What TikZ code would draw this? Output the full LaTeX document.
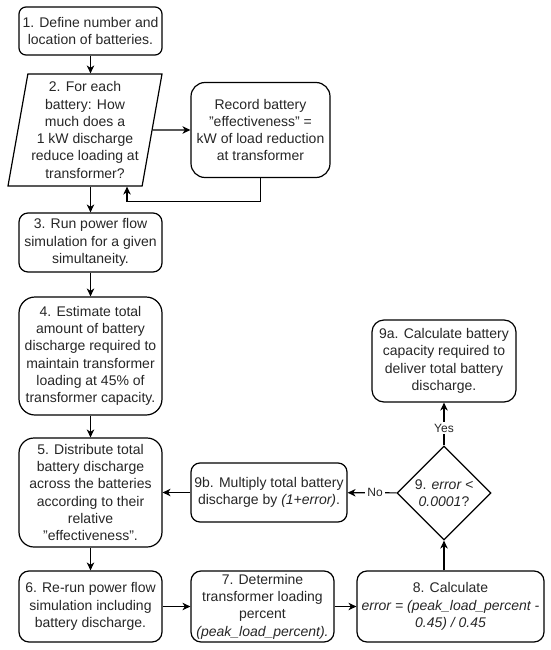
\documentclass[tikz,border=0pt]{standalone}
\usepackage{fontspec}
\setmainfont{Liberation Sans}
\usetikzlibrary{shapes.geometric,arrows.meta,calc}
\begin{document}
\begin{tikzpicture}[x=1pt,y=-1pt,
  every node/.style={font=\fontsize{14}{17.3}\selectfont, text=black!85, align=center, inner sep=0pt},
  box/.style={draw, line width=1.2pt, rounded corners=#1, minimum width=143pt},
  box/.default=10pt,
  arr/.style={-{Stealth[length=8pt,width=7.5pt,inset=2.5pt]}, line width=1.2pt},
  lbl/.style={fill=white, inner sep=2pt, font=\fontsize{12}{14}\selectfont}]
\useasboundingbox (0,0) rectangle (550,650);

\node[box=7pt, minimum height=48pt] (b1) at (90.5,31) {1. Define number and\\location of batteries.};
\node[draw, line width=1.2pt, trapezium, trapezium left angle=78.4, trapezium right angle=101.6,
      trapezium stretches body, minimum width=154pt, minimum height=112pt] (p2) at (85,130)
      {2. For each\\battery: How\\much does a\\1 kW discharge\\reduce loading at\\transformer?};
\node[box=14pt, minimum width=139pt, minimum height=95pt] (rec) at (260.5,130)
      {Record battery\\"effectiveness" =\\kW of load reduction\\at transformer};
\node[box=9pt, minimum height=59pt] (b3) at (90.5,242.5) {3. Run power flow\\simulation for a given\\simultaneity.};
\node[box=16pt, minimum height=118pt] (b4) at (90.5,356)
      {4. Estimate total\\amount of battery\\discharge required to\\maintain transformer\\loading at 45\% of\\transformer capacity.};
\node[box=15pt, minimum height=109pt] (b5) at (90.5,492.5)
      {5. Distribute total\\battery discharge\\across the batteries\\according to their\\relative\\"effectiveness".};
\node[box=10pt, minimum height=71pt] (b6) at (90.5,606.5) {6. Re-run power flow\\simulation including\\battery discharge.};
\node[box=10pt, minimum height=71pt] (b7) at (262.5,606.5)
      {7. Determine\\transformer loading\\percent\\\textit{(peak\_load\_percent).}};
\node[box=10pt, minimum width=187pt, minimum height=71pt] (b8) at (450.5,606.5)
      {8. Calculate\\\textit{error = (peak\_load\_percent -}\\\textit{0.45) / 0.45}};
\node[box=9pt, minimum width=156pt, minimum height=59pt] (b9b) at (269,492.5)
      {9b. Multiply total battery\\discharge by \textit{(1+error)}.};
\node[draw, line width=1.2pt, diamond, aspect=1, minimum width=94pt, minimum height=94pt] (dia) at (444,493)
      {9. \textit{error <}\\\textit{0.0001}?};
\node[box=12pt, minimum width=144pt, minimum height=82pt] (b9a) at (444,361)
      {9a. Calculate battery\\capacity required to\\deliver total battery\\discharge.};

\draw[arr] (b1.south) -- (b1.south |- p2.north);
\draw[arr] (p2) -- (rec);
\draw[arr] (rec.south) -- ++(0,23) -| ([xshift=42pt]p2.south);
\draw[arr] (b3.north |- p2.south) -- (b3.north);
\draw[arr] (b3) -- (b4);
\draw[arr] (b4) -- (b5);
\draw[arr] (b5) -- (b6);
\draw[arr] (b6) -- (b7);
\draw[arr] (b7) -- (b8);
\draw[arr] (dia.south |- b8.north) -- (dia.south);
\draw[arr] (dia) -- node[lbl, pos=0.4] (yes) {Yes} (b9a);
\draw[arr] (dia) -- node[lbl, pos=0.44] (no) {No} (b9b);
\draw[arr] (b9b) -- (b5);
\end{tikzpicture}
\end{document}
